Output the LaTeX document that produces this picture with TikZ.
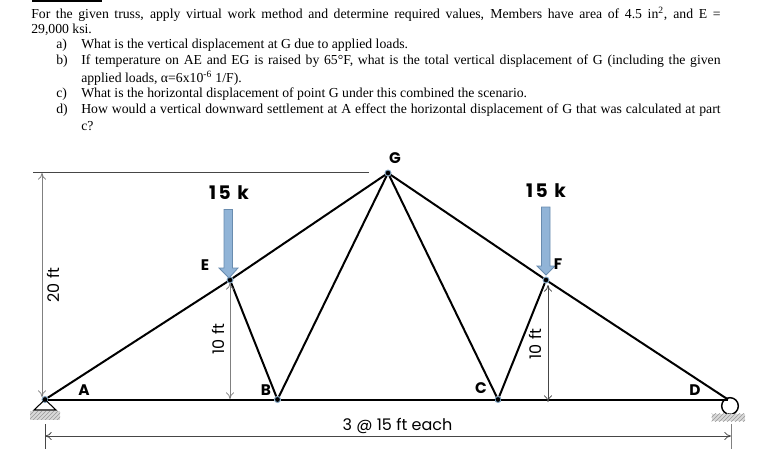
\documentclass[tikz,border=0pt]{standalone}
\usepackage{fontspec}
\usepackage{tikz}
\setmainfont{Liberation Serif}
\newfontfamily\trussfont{Poppins}
\newfontfamily\loadfont[LetterSpace=14]{Poppins}
\usetikzlibrary{patterns,arrows.meta}

\tikzset{
  textline/.style={anchor=west,inner sep=0pt,font=\fontsize{10.3}{11}\selectfont},
  member/.style={line width=1.5pt,color=black},
  dimline/.style={line width=0.6pt,color={rgb, 255:red, 70; green, 70; blue, 70}},
  dimarrow/.style={dimline,{To[length=5pt,width=6pt]}-{To[length=5pt,width=6pt]}},
  joint/.style={circle,fill=black,draw={rgb, 255:red, 130; green, 165; blue, 195},line width=0.7pt,minimum size=4.5pt,inner sep=0pt},
  nodelabel/.style={inner sep=0pt,font=\trussfont\bfseries\fontsize{11.5}{13}\selectfont},
  loadlabel/.style={inner sep=0pt,font=\loadfont\bfseries\fontsize{14}{16}\selectfont},
  dimlabel/.style={inner sep=0pt,font=\trussfont\fontsize{12}{14}\selectfont},
  loadarrow/.style={draw={rgb, 255:red, 105; green, 140; blue, 175},fill={rgb, 255:red, 145; green, 180; blue, 215},line width=0.6pt},
  ground/.style={preaction={fill=gray!30},pattern=north east lines,pattern color=gray!80,draw=none}
}

\begin{document}
\begin{tikzpicture}[x=0.75pt,y=0.75pt,yscale=-1,xscale=1]

\useasboundingbox (0,0) rectangle (773,461);

% Text lines
\draw[line width=1.5pt] (32,1) -- (102,1);
\node[textline] (intro) at (31,14) {\makebox[517pt][s]{For the given truss, apply virtual work method and determine required values, Members have area of 4.5 in\textsuperscript{2}, and E =}};
\node[textline] (intro2) at (31,29.5) {29,000 ksi.};
\node[textline] (qa) at (56,45) {a)};
\node[textline] (qat) at (81,45) {What is the vertical displacement at G due to applied loads.};
\node[textline] (qb) at (56,61.5) {b)};
\node[textline] (qbt) at (81,61.5) {\makebox[479.5pt][s]{If temperature on AE and EG is raised by 65\textdegree F, what is the total vertical displacement of G (including the given}};
\node[textline] (qbt2) at (81,78) {applied loads, α=6x10\textsuperscript{-6} 1/F).};
\node[textline] (qc) at (56,94) {c)};
\node[textline] (qct) at (81,94) {What is the horizontal displacement of point G under this combined the scenario.};
\node[textline] (qd) at (56,110) {d)};
\node[textline] (qdt) at (81,110) {\makebox[479.5pt][s]{How would a vertical downward settlement at A effect the horizontal displacement of G that was calculated at part}};
\node[textline] (qdt2) at (81,126) {c?};

% Joints
\node[joint] (A) at (45,399.5) {};
\node[joint] (B) at (277.5,399.5) {};
\node[joint] (C) at (498,399.5) {};
\node[circle,draw=black,line width=1.1pt,fill=white,minimum size=12.5pt,inner sep=0pt] (D) at (730,406) {};
\node[joint] (E) at (230,280) {};
\node[joint] (F) at (546,280) {};
\node[joint] (G) at (388,173) {};

% Supports
\coordinate (Dtop) at (728,399.5);
\coordinate (Al) at (34,410);
\coordinate (Ar) at (56,410);
\draw[line width=0.8pt] (A.center) -- (Al) -- (Ar) -- cycle;
\fill[ground] (30,411) rectangle (60,419.5);
\fill[ground] (711.5,413.5) rectangle (745,421);

% Members
\draw[member] (A) -- (E);
\draw[member] (E) -- (G);
\draw[member] (G) -- (F);
\draw[member] (F) -- (Dtop);
\draw[member] (A) -- (B);
\draw[member] (B) -- (C);
\draw[member] (C) -- (Dtop);
\draw[member] (E) -- (B);
\draw[member] (B) -- (G);
\draw[member] (G) -- (C);
\draw[member] (C) -- (F);

% Dimensions
\coordinate (top1) at (33,172.5);
\coordinate (top2) at (369,172.5);
\coordinate (dimT) at (42,173);
\coordinate (dimA) at (42,397);
\coordinate (dimE) at (230,283);
\coordinate (dimEb) at (230,399);
\coordinate (dimF) at (548,285);
\coordinate (dimFb) at (548,402);
\coordinate (baseL) at (45,436);
\coordinate (baseR) at (731,436);
\coordinate (tickLa) at (45,424);
\coordinate (tickLb) at (45,449);
\coordinate (tickRa) at (731,424);
\coordinate (tickRb) at (731,449);
\draw[dimline] (top1) -- (top2);
\draw[dimarrow,gray] (dimT) -- (dimA);
\draw[dimarrow,gray] (dimE) -- (dimEb);
\draw[dimarrow] (dimF) -- (dimFb);
\draw[dimarrow] (baseL) -- (baseR);
\draw[dimline] (tickLa) -- (tickLb);
\draw[dimline,gray] (tickRa) -- (tickRb);

% Loads
\draw[loadarrow] (224,209.5) -- (232.5,209.5) -- (232.5,268) -- (238,268) -- (229,278) -- (219,268) -- (224,268) -- cycle;
\draw[loadarrow] (541.5,207) -- (550,207) -- (550,266) -- (555,266) -- (546,275) -- (537,266) -- (541.5,266) -- cycle;

% Labels
\node[nodelabel] (lblA) at (84,390) {A};
\node[nodelabel] (lblB) at (266,390) {B};
\node[nodelabel] (lblC) at (481,388) {C};
\node[nodelabel] (lblD) at (695,390) {D};
\node[nodelabel] (lblE) at (205,265.5) {E};
\node[nodelabel] (lblF) at (558,264) {F};
\node[nodelabel] (lblG) at (395,158) {G};
\node[loadlabel] (loadl) at (229,193) {15 k};
\node[loadlabel] (loadr) at (546,191) {15 k};
\node[dimlabel,rotate=90] (d20) at (53,285) {20 ft};
\node[dimlabel,rotate=90] (d10a) at (218,339) {10 ft};
\node[dimlabel,rotate=90] (d10b) at (535,344) {10 ft};
\node[dimlabel] (span) at (397.5,425.5) {3 @ 15 ft each};

\end{tikzpicture}
\end{document}
